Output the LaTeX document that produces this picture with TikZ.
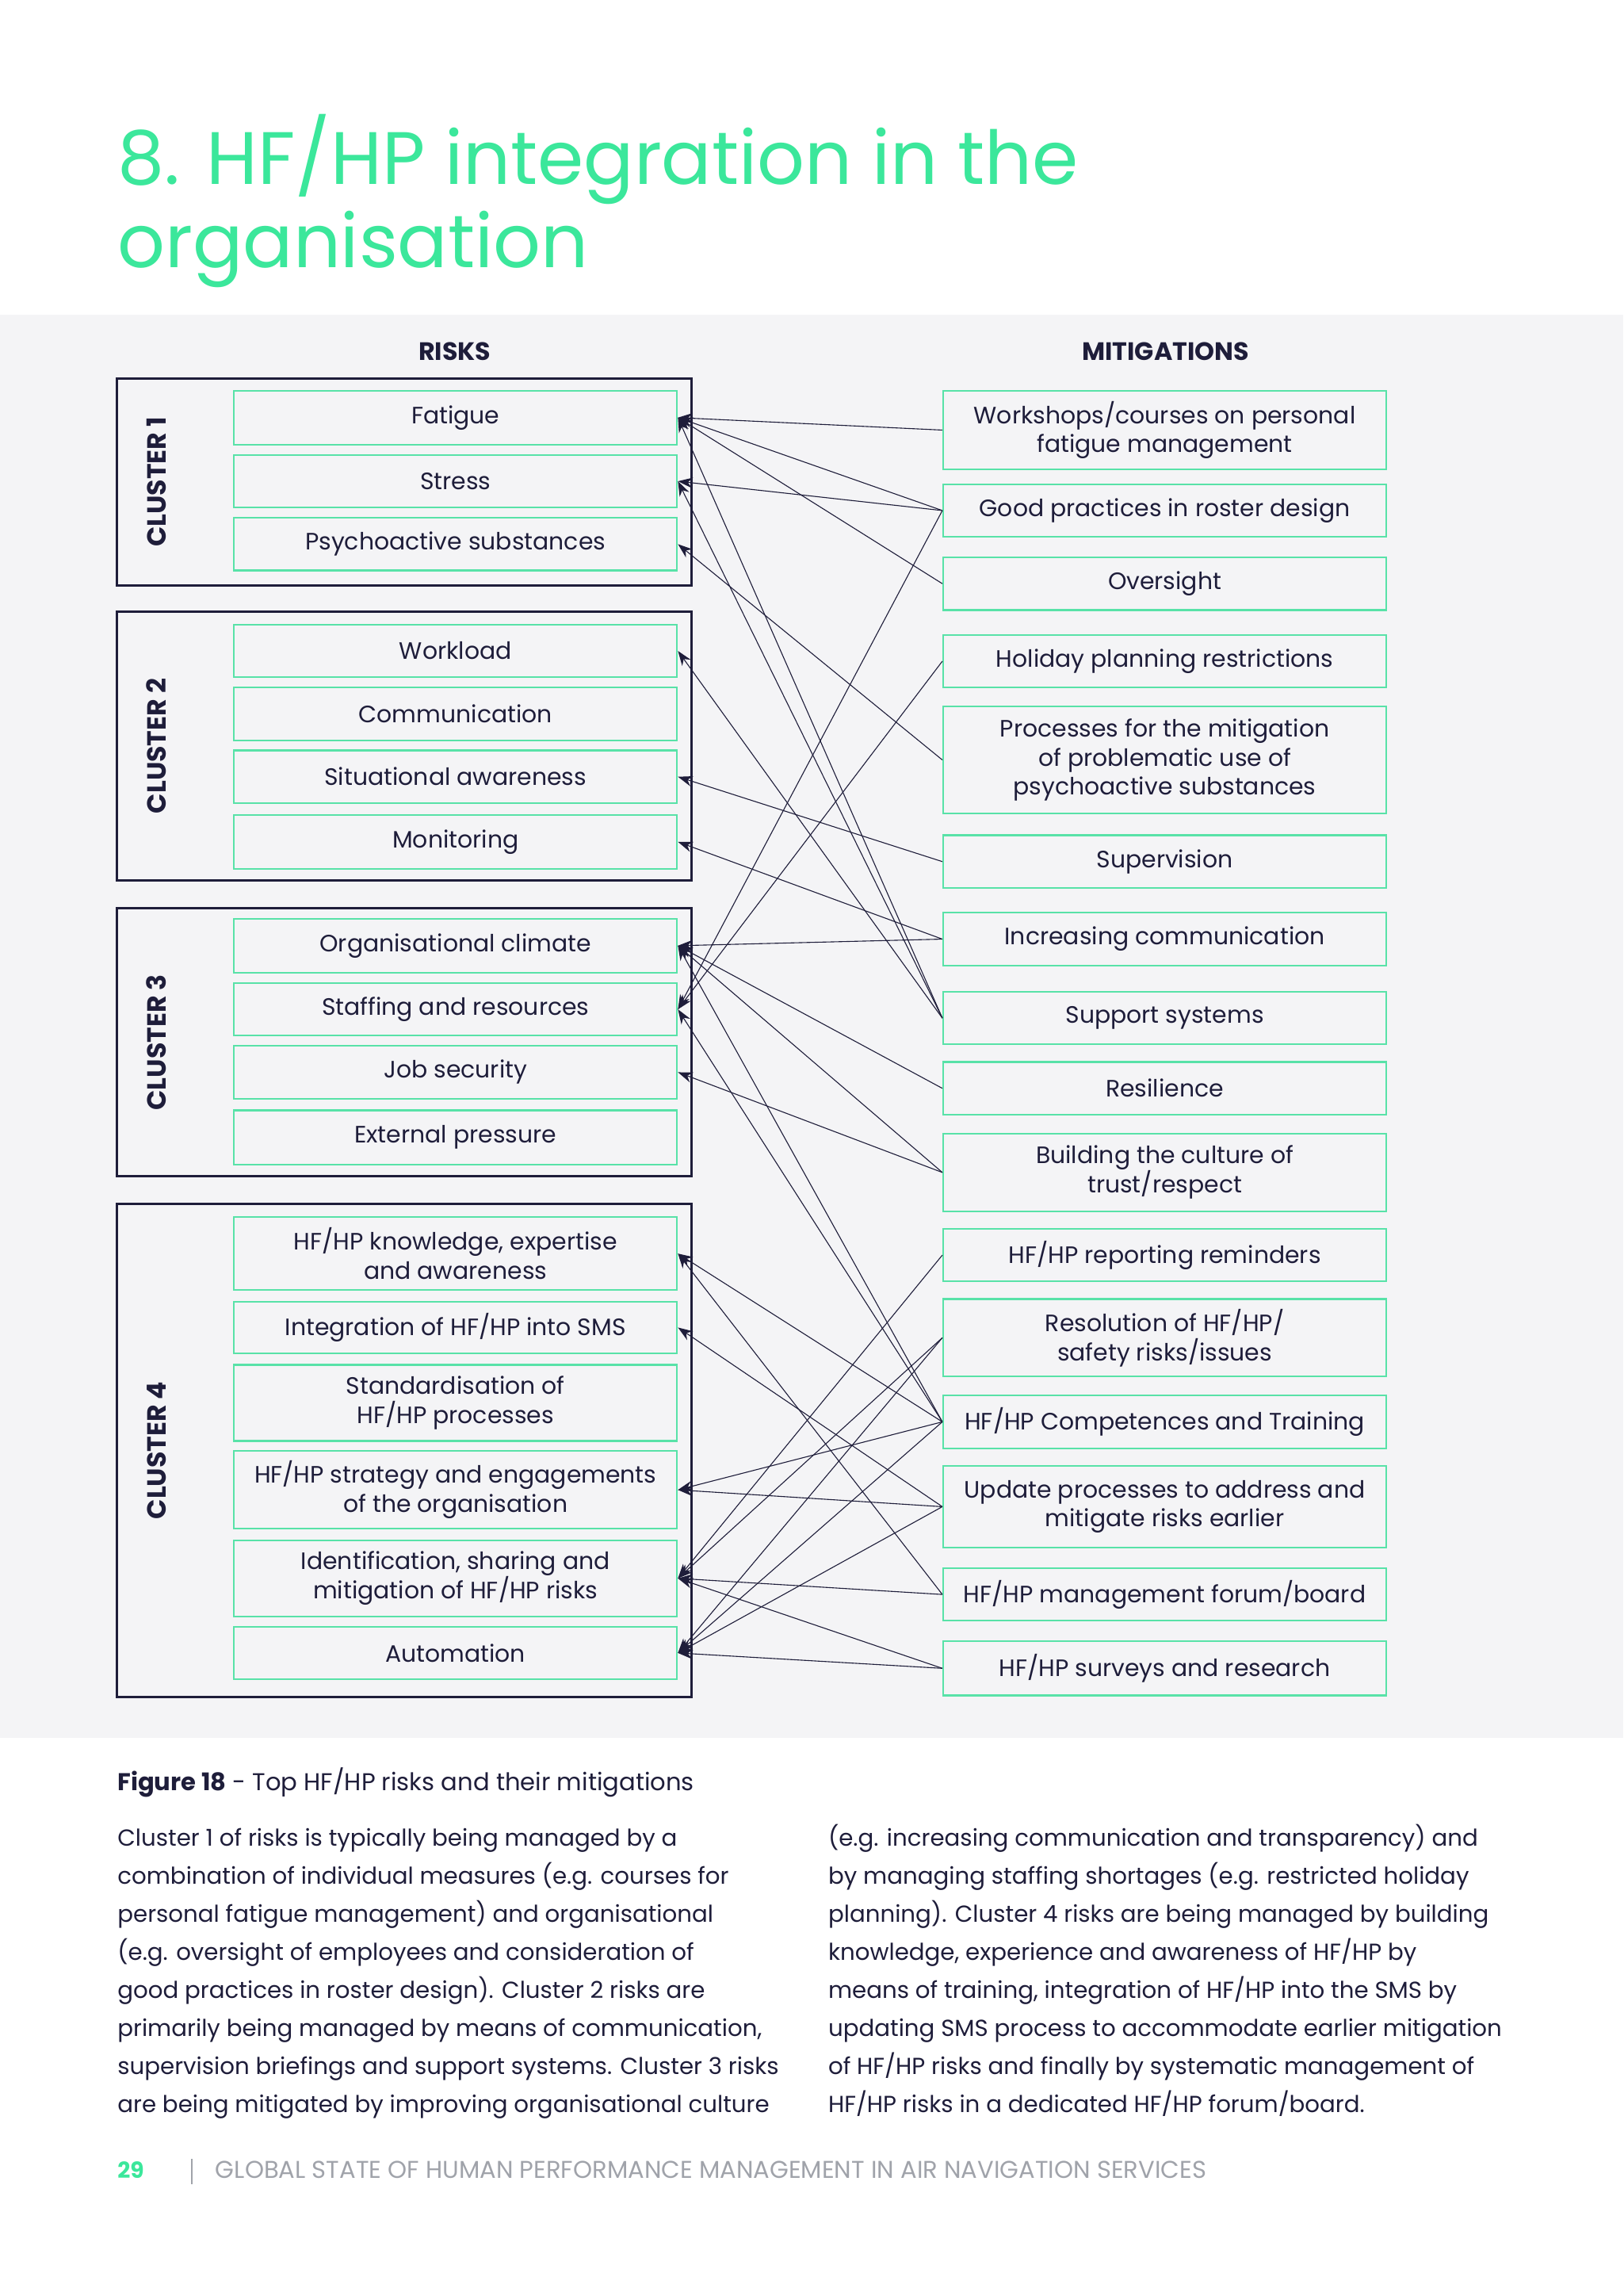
\documentclass[tikz,border=0pt]{standalone}
\usepackage{fontspec}
\setmainfont{Poppins}
\usetikzlibrary{arrows.meta}
\definecolor{hpgreen}{RGB}{59,231,155}
\definecolor{boxgreen}{RGB}{88,226,168}
\definecolor{navy}{RGB}{30,29,58}
\definecolor{panel}{RGB}{244,244,246}
\definecolor{footgray}{RGB}{160,163,170}
\begin{document}
\begin{tikzpicture}[x=0.5pt,y=-0.5pt,
  rbox/.style={draw=boxgreen, line width=0.6pt, minimum width=151.5pt, inner sep=0pt, align=center,
    font=\fontsize{8.1}{10}\selectfont, text=navy},
  cbox/.style={draw=navy, line width=0.8pt, minimum width=196.5pt, inner sep=0pt},
  clab/.style={rotate=90, font=\bfseries\fontsize{9}{10}\selectfont, text=navy},
  head/.style={font=\bfseries\fontsize{8.6}{10}\selectfont, text=navy},
  conn/.style={draw=navy, line width=0.3pt, -{Stealth[length=5pt,width=3.6pt]}},
  body/.style={anchor=base west, inner sep=0pt, font=\fontsize{7.93}{9}\selectfont, text=navy},
]
\useasboundingbox (0,0) rectangle (1110,1569.6);
\fill[white] (0,0) rectangle (1110,1569.6);
\fill[panel] (0,215) rectangle (1110,1188);

% title
\node[anchor=base west, inner sep=0pt, text=hpgreen, font=\fontsize{25.4}{30}\selectfont] (t1) at (80,126) {8. HF/HP integration in the};
\node[anchor=base west, inner sep=0pt, text=hpgreen, font=\fontsize{25.4}{30}\selectfont] (t2) at (80,183) {organisation};

% headings
\node[head] (hr) at (311,240) {RISKS};
\node[head] (hm) at (797,240) {MITIGATIONS};

% cluster boxes
\node[cbox, minimum height=70.5pt] (c1) at (276.5,329.5) {};
\node[cbox, minimum height=92pt] (c2) at (276.5,510) {};
\node[cbox, minimum height=91.5pt] (c3) at (276.5,712.5) {};
\node[cbox, minimum height=168.5pt] (c4) at (276.5,991.5) {};
\node[clab] (l1) at (107,329.5) {CLUSTER 1};
\node[clab] (l2) at (107,510) {CLUSTER 2};
\node[clab] (l3) at (107,712.5) {CLUSTER 3};
\node[clab] (l4) at (107,991.5) {CLUSTER 4};

% risks
\node[rbox, minimum height=18.5pt] (fat) at (311.5,285.5) {Fatigue};
\node[rbox, minimum height=18pt] (str) at (311.5,329) {Stress};
\node[rbox, minimum height=18pt] (psy) at (311.5,372) {Psychoactive substances};
\node[rbox, minimum height=18pt] (wor) at (311.5,445) {Workload};
\node[rbox, minimum height=18pt] (com) at (311.5,488) {Communication};
\node[rbox, minimum height=18pt] (sit) at (311.5,531) {Situational awareness};
\node[rbox, minimum height=18.5pt] (mon) at (311.5,575.5) {Monitoring};
\node[rbox, minimum height=18.5pt] (org) at (311.5,646.5) {Organisational climate};
\node[rbox, minimum height=18pt] (sta) at (311.5,690) {Staffing and resources};
\node[rbox, minimum height=18pt] (job) at (311.5,733) {Job security};
\node[rbox, minimum height=18.5pt] (ext) at (311.5,777.5) {External pressure};
\node[rbox, minimum height=25pt] (kno) at (311.5,857) {HF/HP knowledge, expertise\\and awareness};
\node[rbox, minimum height=17.5pt] (int) at (311.5,907.5) {Integration of HF/HP into SMS};
\node[rbox, minimum height=26pt] (stn) at (311.5,959) {Standardisation of\\HF/HP processes};
\node[rbox, minimum height=26.5pt] (stg) at (311.5,1018.5) {HF/HP strategy and engagements\\of the organisation};
\node[rbox, minimum height=26pt] (ide) at (311.5,1079) {Identification, sharing and\\mitigation of HF/HP risks};
\node[rbox, minimum height=18pt] (aut) at (311.5,1130) {Automation};

% mitigations
\node[rbox, minimum height=27pt] (mws) at (796.5,294) {Workshops/courses on personal\\fatigue management};
\node[rbox, minimum height=18pt] (mgp) at (796.5,349) {Good practices in roster design};
\node[rbox, minimum height=18pt] (mov) at (796.5,399) {Oversight};
\node[rbox, minimum height=18pt] (mho) at (796.5,452) {Holiday planning restrictions};
\node[rbox, minimum height=36.5pt] (mpr) at (796.5,519.5) {Processes for the mitigation\\of problematic use of\\psychoactive substances};
\node[rbox, minimum height=18pt] (msu) at (796.5,589) {Supervision};
\node[rbox, minimum height=18pt] (mic) at (796.5,642) {Increasing communication};
\node[rbox, minimum height=18pt] (mss) at (796.5,696) {Support systems};
\node[rbox, minimum height=18pt] (mre) at (796.5,744) {Resilience};
\node[rbox, minimum height=26.5pt] (mbc) at (796.5,801.5) {Building the culture of\\trust/respect};
\node[rbox, minimum height=18pt] (mrr) at (796.5,858) {HF/HP reporting reminders};
\node[rbox, minimum height=26.5pt] (mrs) at (796.5,914.5) {Resolution of HF/HP/\\safety risks/issues};
\node[rbox, minimum height=18pt] (mct) at (796.5,972) {HF/HP Competences and Training};
\node[rbox, minimum height=28pt] (mup) at (796.5,1030) {Update processes to address and\\mitigate risks earlier};
\node[rbox, minimum height=18pt] (mfb) at (796.5,1090) {HF/HP management forum/board};
\node[rbox, minimum height=18.5pt] (msr) at (796.5,1140.5) {HF/HP surveys and research};

% connectors
\draw[conn] (mws.west) -- (fat.east);
\draw[conn] (mgp.west) -- (fat.east);
\draw[conn] (mgp.west) -- (str.east);
\draw[conn] (mgp.west) -- (sta.east);
\draw[conn] (mov.west) -- (fat.east);
\draw[conn] (mho.west) -- (sta.east);
\draw[conn] (mpr.west) -- (psy.east);
\draw[conn] (msu.west) -- (sit.east);
\draw[conn] (mic.west) -- (mon.east);
\draw[conn] (mic.west) -- (org.east);
\draw[conn] (mss.west) -- (fat.east);
\draw[conn] (mss.west) -- (str.east);
\draw[conn] (mss.west) -- (wor.east);
\draw[conn] (mre.west) -- (org.east);
\draw[conn] (mbc.west) -- (org.east);
\draw[conn] (mbc.west) -- (job.east);
\draw[conn] (mrr.west) -- (ide.east);
\draw[conn] (mrs.west) -- (ide.east);
\draw[conn] (mrs.west) -- (aut.east);
\draw[conn] (mct.west) -- (org.east);
\draw[conn] (mct.west) -- (sta.east);
\draw[conn] (mct.west) -- (kno.east);
\draw[conn] (mct.west) -- (stg.east);
\draw[conn] (mct.west) -- (aut.east);
\draw[conn] (mup.west) -- (int.east);
\draw[conn] (mup.west) -- (stg.east);
\draw[conn] (mup.west) -- (aut.east);
\draw[conn] (mfb.west) -- (kno.east);
\draw[conn] (mfb.west) -- (ide.east);
\draw[conn] (msr.west) -- (ide.east);
\draw[conn] (msr.west) -- (aut.east);

% caption
\node[body, font=\fontsize{8.3}{10}\selectfont] (cap) at (80,1224) {\textbf{Figure 18} - Top HF/HP risks and their mitigations};

% body text left
\node[body] (a1) at (80,1262) {Cluster 1 of risks is typically being managed by a};
\node[body] (a2) at (80,1288) {combination of individual measures (e.g. courses for};
\node[body] (a3) at (80,1314) {personal fatigue management) and organisational};
\node[body] (a4) at (80,1340) {(e.g. oversight of employees and consideration of};
\node[body] (a5) at (80,1366) {good practices in roster design). Cluster 2 risks are};
\node[body] (a6) at (80,1392) {primarily being managed by means of communication,};
\node[body] (a7) at (80,1418) {supervision briefings and support systems. Cluster 3 risks};
\node[body] (a8) at (80,1444) {are being mitigated by improving organisational culture};
% body text right
\node[body] (b1) at (566,1262) {(e.g. increasing communication and transparency) and};
\node[body] (b2) at (566,1288) {by managing staffing shortages (e.g. restricted holiday};
\node[body] (b3) at (566,1314) {planning). Cluster 4 risks are being managed by building};
\node[body] (b4) at (566,1340) {knowledge, experience and awareness of HF/HP by};
\node[body] (b5) at (566,1366) {means of training, integration of HF/HP into the SMS by};
\node[body] (b6) at (566,1392) {updating SMS process to accommodate earlier mitigation};
\node[body] (b7) at (566,1418) {of HF/HP risks and finally by systematic management of};
\node[body] (b8) at (566,1444) {HF/HP risks in a dedicated HF/HP forum/board.};

% footer
\node[anchor=base west, inner sep=0pt, text=hpgreen, font=\bfseries\fontsize{7.6}{9}\selectfont] (pg) at (80,1489) {29};
\coordinate (bt) at (131,1476);
\coordinate (bb) at (131,1493);
\draw[footgray, line width=0.5pt] (bt) -- (bb);
\node[anchor=base west, inner sep=0pt, text=footgray, font=\fontsize{8.3}{9}\selectfont] (ft) at (147,1489) {GLOBAL STATE OF HUMAN PERFORMANCE MANAGEMENT IN AIR NAVIGATION SERVICES};
\end{tikzpicture}
\end{document}
